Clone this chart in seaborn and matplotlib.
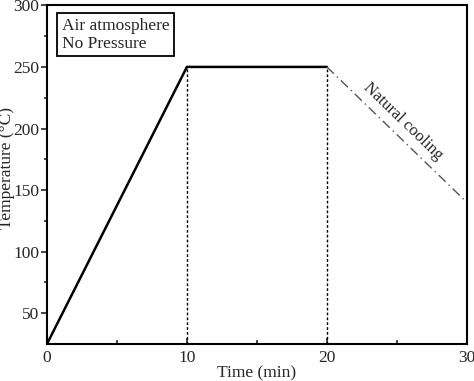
import matplotlib
matplotlib.use("Agg")
import matplotlib.pyplot as plt
import seaborn as sns
import pandas as pd

# heating profile
heat_time = [0, 10, 20]
heat_temp = [25, 250, 250]
# natural cooling
cool_time = [20, 30]
cool_temp = [250, 140]
# hold markers
hold_times = [10, 20]
hold_temp = 250

sns.set_style("ticks")
plt.rcParams['font.family'] = ['Liberation Serif', 'DejaVu Serif']

fig = plt.figure(figsize=(4.74, 3.81), dpi=100)
ax = fig.add_axes([0.099, 0.097, 0.886, 0.889])

heat = pd.DataFrame({"t": heat_time, "T": heat_temp})
cool = pd.DataFrame({"t": cool_time, "T": cool_temp})
sns.lineplot(data=heat, x="t", y="T", ax=ax, color="black", lw=1.8)
sns.lineplot(data=cool, x="t", y="T", ax=ax, color="#555555", lw=1.0,
             linestyle=(0, (7, 3, 1, 3)))
for t in hold_times:
    ax.plot([t, t], [25, hold_temp], color="black", lw=1.0, linestyle=(0, (2, 1.5)))

ax.set_xlim(0, 30)
ax.set_ylim(25, 300)
ax.set_xticks([0, 10, 20, 30])
ax.set_xticks([5, 15, 25], minor=True)
ax.set_yticks([50, 100, 150, 200, 250, 300])
ax.set_yticks([75, 125, 175, 225, 275], minor=True)
ax.tick_params(axis="x", direction="in", labelsize=12.5, length=4, width=1.2, pad=4)
ax.tick_params(axis="x", which="minor", direction="in", length=3, width=1.2)
ax.tick_params(axis="y", direction="out", labelsize=12.5, length=4, width=1.2, pad=1.5)
ax.tick_params(axis="y", which="minor", direction="out", length=2.5, width=1.2)
for s in ax.spines.values():
    s.set_linewidth(1.5)
    s.set_color("black")

ax.set_xlabel("Time (min)", fontsize=12.5, labelpad=0)
ax.set_ylabel("Temperature (°C)", fontsize=12.5, va="center")
ax.yaxis.set_label_coords(-0.094, 0.52)

ax.text(1.05, 290, "Air atmosphere\nNo Pressure", fontsize=12.5, va="top", ha="left",
        linespacing=1.2,
        bbox=dict(boxstyle="square,pad=0.25", fc="white", ec="black", lw=1.3))
ax.text(25.4, 206, "Natural cooling", fontsize=12, rotation=-44,
        rotation_mode="anchor", ha="center", va="center")

fig.savefig("out.png", dpi=100)
